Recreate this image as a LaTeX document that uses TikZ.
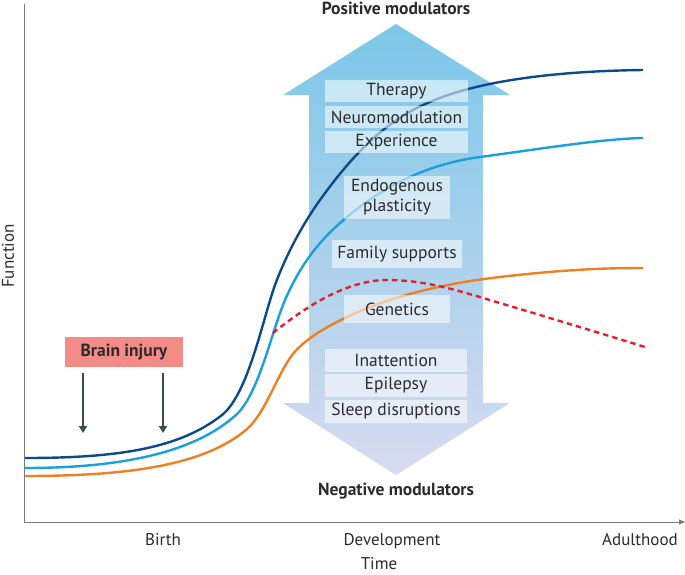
\documentclass[tikz,border=0pt]{standalone}
\usepackage{fontspec}
\setmainfont{PT Sans}
\usetikzlibrary{arrows.meta}
\definecolor{navy}{HTML}{0B4A8B}
\definecolor{lblue}{HTML}{1BA0DC}
\definecolor{orng}{HTML}{EE7F22}
\definecolor{rdash}{HTML}{E3202B}
\definecolor{arrtop}{HTML}{7BC7E8}
\definecolor{arrbot}{HTML}{D8DBF0}
\definecolor{txt}{HTML}{2B2B2B}
\definecolor{axisgray}{HTML}{7A7A7A}
\definecolor{salmon}{HTML}{F38B86}
\definecolor{slate}{HTML}{3E4B55}
\tikzset{
  modbox/.style={fill=white, fill opacity=0.55, text opacity=1, text=txt, inner sep=0pt, font=\fontsize{17.5}{20}\selectfont},
  curve/.style={line width=2.4pt},
  axislbl/.style={text=txt, font=\fontsize{17}{19}\selectfont},
  boldlbl/.style={text=txt, font=\bfseries\fontsize{17.5}{20}\selectfont},
  injarrow/.style={slate, line width=2pt, -{Triangle[length=7pt,width=8pt]}}
}
\begin{document}
\begin{tikzpicture}[x=1pt,y=-1pt]
\useasboundingbox (0,0) rectangle (685,574);
% big double arrow
\shade[top color=arrtop, bottom color=arrbot]
  (396,24) -- (510,95) -- (483,95) -- (483,403) -- (510,403) -- (396,475)
  -- (283,403) -- (309,403) -- (309,95) -- (283,95) -- cycle;
% axes
\draw[axisgray, line width=0.9pt] (24,4) -- (24,522);
\draw[axisgray, line width=0.9pt, -{Triangle[length=6pt,width=5pt]}] (24,522) -- (685,522);
% curves
\draw[curve, navy] (25,458) .. controls (120,458) and (180,448) .. (222,415)
  .. controls (248,394) and (262,322) .. (275,285)
  .. controls (285,258) and (300,228) .. (320,200)
  .. controls (350,158) and (385,120) .. (430,102)
  .. controls (480,80) and (560,71) .. (643,70);
\draw[curve, lblue] (25,468) .. controls (120,468) and (195,453) .. (237,414)
  .. controls (259,393) and (272,330) .. (285,300)
  .. controls (298,270) and (315,245) .. (340,223)
  .. controls (375,192) and (420,165) .. (480,157)
  .. controls (540,149) and (600,139) .. (643,138);
\draw[curve, orng] (25,476) .. controls (130,476) and (205,465) .. (247,429)
  .. controls (265,413) and (275,380) .. (290,358)
  .. controls (300,343) and (320,330) .. (345,318)
  .. controls (380,301) and (430,285) .. (500,277)
  .. controls (560,270) and (600,268) .. (643,268);
\draw[curve, rdash, dash pattern=on 5.5pt off 4pt] (273,333) .. controls (310,303) and (350,280) .. (387,280)
  .. controls (420,280) and (450,288) .. (483,298)
  .. controls (540,315) and (600,333) .. (645,347);
% modulator boxes
\node[modbox, minimum width=143pt, minimum height=22pt] (ther) at (396.5,91) {Therapy};
\node[modbox, minimum width=143pt, minimum height=22pt] (neuro) at (396.5,117) {Neuromodulation};
\node[modbox, minimum width=143pt, minimum height=22pt] (exper) at (396.5,142) {Experience};
\node[modbox, minimum width=106pt, minimum height=43pt, align=center] (endo) at (397,197.5) {Endogenous\\plasticity};
\node[modbox, minimum width=130pt, minimum height=28pt] (fam) at (397,254) {Family supports};
\node[modbox, minimum width=106pt, minimum height=28pt] (gen) at (397,309) {Genetics};
\node[modbox, minimum width=142pt, minimum height=23pt] (inatt) at (396,360.5) {Inattention};
\node[modbox, minimum width=142pt, minimum height=23pt] (epi) at (396,385.5) {Epilepsy};
\node[modbox, minimum width=142pt, minimum height=23pt] (sleep) at (396,411.5) {Sleep disruptions};
% titles
\node[boldlbl, anchor=base] (pos) at (396,14) {Positive modulators};
\node[boldlbl, anchor=base] (neg) at (396,495) {Negative modulators};
% brain injury
\node[fill=salmon, minimum width=118pt, minimum height=30pt, inner sep=0pt, boldlbl] (inj) at (124,352) {Brain injury};
\coordinate (a1s) at (83,373); \coordinate (a1e) at (83,433);
\coordinate (a2s) at (163,373); \coordinate (a2e) at (163,433);
\draw[injarrow] (a1s) -- (a1e);
\draw[injarrow] (a2s) -- (a2e);
% axis labels
\node[axislbl, anchor=base] (birth) at (163,545) {Birth};
\node[axislbl, anchor=base] (dev) at (392,545) {Development};
\node[axislbl, anchor=base] (adult) at (640,545) {Adulthood};
\node[axislbl, anchor=base] (time) at (379,569) {Time};
\node[axislbl, rotate=90] (func) at (8,256) {Function};
\end{tikzpicture}
\end{document}
